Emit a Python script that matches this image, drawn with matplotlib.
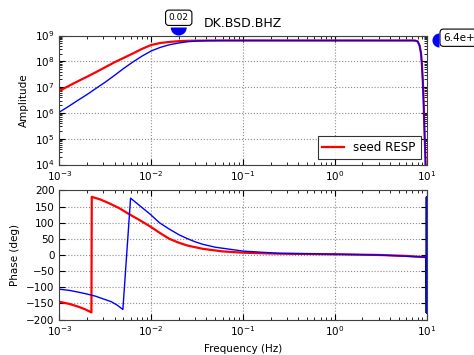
import numpy as np
import matplotlib
matplotlib.use('Agg')
import matplotlib.pyplot as plt
import matplotlib.transforms as mtransforms
from matplotlib.patches import Wedge

# amplitude response
amp_freq = [0.001, 0.00126, 0.00158, 0.002, 0.00251, 0.00316, 0.00398, 0.00501,
            0.00631, 0.00794, 0.01, 0.0126, 0.0158, 0.02, 0.0251, 0.0316, 0.0398,
            0.0631, 0.1, 1.0, 5.0, 7.0, 7.5, 8.0, 8.4, 8.7, 8.9, 9.1, 9.3, 9.5,
            9.7, 9.85]
amp_resp = [7.08e6, 1.10e7, 1.66e7, 2.51e7, 3.80e7, 5.89e7, 9.12e7, 1.35e8,
            2.0e8, 3.02e8, 4.27e8, 5.13e8, 5.62e8, 6.03e8, 6.24e8, 6.31e8, 6.35e8,
            6.4e8, 6.4e8, 6.4e8, 6.4e8, 6.4e8, 6.35e8, 5.9e8, 4.0e8, 2.0e8, 7.1e7,
            1.6e7, 2.0e6, 1.6e5, 2.0e4, 1.0e3]
amp_pz = [1.07e6, 1.78e6, 3.02e6, 5.13e6, 8.91e6, 1.55e7, 2.82e7, 5.25e7,
          9.33e7, 1.58e8, 2.51e8, 3.47e8, 4.37e8, 5.13e8, 5.75e8, 6.10e8, 6.31e8,
          6.4e8, 6.4e8, 6.4e8, 6.4e8, 6.4e8, 6.35e8, 5.9e8, 4.0e8, 2.0e8, 7.1e7,
          1.6e7, 2.0e6, 1.6e5, 2.0e4, 1.0e3]

# phase response (deg)
ph_freq_resp = [0.001, 0.0013, 0.0016, 0.0019, 0.00224, 0.00226, 0.0028, 0.0035,
                0.0045, 0.0058, 0.0075, 0.0098, 0.0125, 0.0158, 0.02, 0.025,
                0.0365, 0.06, 0.1, 0.15, 0.25, 0.5, 1.0, 3.0, 6.0, 10.0]
ph_resp = [-145, -152, -160, -168, -178, 180, 172, 160,
           145, 126, 108, 88, 68, 50, 38, 29,
           19, 11, 7, 5.5, 4, 3, 2, 0, -3, -7]

ph_freq_pz = [0.001, 0.0013, 0.0016, 0.002, 0.0025, 0.003, 0.0037, 0.0043,
              0.00493, 0.00598, 0.0075, 0.0098, 0.0123, 0.0158, 0.0203, 0.0251,
              0.03, 0.0365, 0.05, 0.1, 0.25, 1.0, 3.0, 9.9,
              9.96, 9.97, 9.98, 9.99, 10.0]
ph_pz = [-106, -110, -115, -121, -128, -136, -145, -156,
         -169, 176, 153, 126, 100, 80, 62, 50,
         41, 33, 24, 12, 5, 2.5, 0, -7,
         -180, 180, -180, 180, -7]

station = "DK.BSD.BHZ"
mark_freq = 0.02
mark_amp = 6.4e8

plt.rcParams['font.size'] = 7.5

fig = plt.figure(figsize=(4.74, 3.55), dpi=100)
fig.subplots_adjust(left=0.125, right=0.9, top=0.9, bottom=0.1, hspace=0.2)
ax1 = fig.add_subplot(211)
ax2 = fig.add_subplot(212, sharex=ax1)

ax1.loglog(amp_freq, amp_resp, color='r', lw=1.6, label='seed RESP')
ax1.loglog(amp_freq, amp_pz, color='b', lw=1.0)
ax1.set_xlim(1e-3, 10)
ax1.set_ylim(1e4, 1e9)
ax1.set_ylabel('Amplitude')
ax1.set_title(station, fontsize=9)
ax1.legend(loc='lower right', fontsize=8.6, fancybox=False, edgecolor='k',
           handlelength=1.8)
ax1.legend_.get_frame().set_linewidth(0.8)

ax2.semilogx(ph_freq_resp, ph_resp, color='r', lw=1.6)
ax2.semilogx(ph_freq_pz, ph_pz, color='b', lw=1.0)
ax2.set_ylim(-200, 200)
ax2.set_yticks(np.arange(-200, 201, 50))
ax2.set_ylabel('Phase (deg)')
ax2.set_xlabel('Frequency (Hz)')
plt.setp(ax1.get_xticklabels(), visible=True)

for ax in (ax1, ax2):
    ax.grid(True, which='major', color='0.55', linestyle=':', linewidth=0.8)
    ax.tick_params(which='both', direction='in', top=True, right=True)
    ax.tick_params(which='major', length=4)
    ax.tick_params(which='minor', length=2)
    for s in ax.spines.values():
        s.set_color('0.25')

# half-disc markers (radius in inches) with value boxes
trans_top = mtransforms.blended_transform_factory(ax1.transData, ax1.transAxes)
tr = fig.dpi_scale_trans + mtransforms.ScaledTranslation(mark_freq, 1.062, trans_top)
fig.add_artist(Wedge((0, 0), 0.08, 180, 360, transform=tr, fc='b', ec='none'))
ax1.annotate('%g' % mark_freq, xy=(mark_freq, 1.062), xycoords=trans_top,
             xytext=(0, 7.0), textcoords='offset points', ha='center', va='center',
             fontsize=6.5,
             bbox=dict(boxstyle='round,pad=0.35', fc='white', ec='k', lw=0.8),
             annotation_clip=False)

trans_right = mtransforms.blended_transform_factory(ax1.transAxes, ax1.transData)
tr = fig.dpi_scale_trans + mtransforms.ScaledTranslation(1.035, mark_amp, trans_right)
fig.add_artist(Wedge((0, 0), 0.07, 90, 270, transform=tr, fc='b', ec='none'))
ax1.annotate('%.1e' % mark_amp, xy=(1.035, mark_amp), xycoords=trans_right,
             xytext=(3.0, 2.0), textcoords='offset points', ha='left', va='center',
             fontsize=7.5,
             bbox=dict(boxstyle='round,pad=0.35', fc='white', ec='k', lw=0.8),
             annotation_clip=False)

fig.savefig('out.png', dpi=100)
